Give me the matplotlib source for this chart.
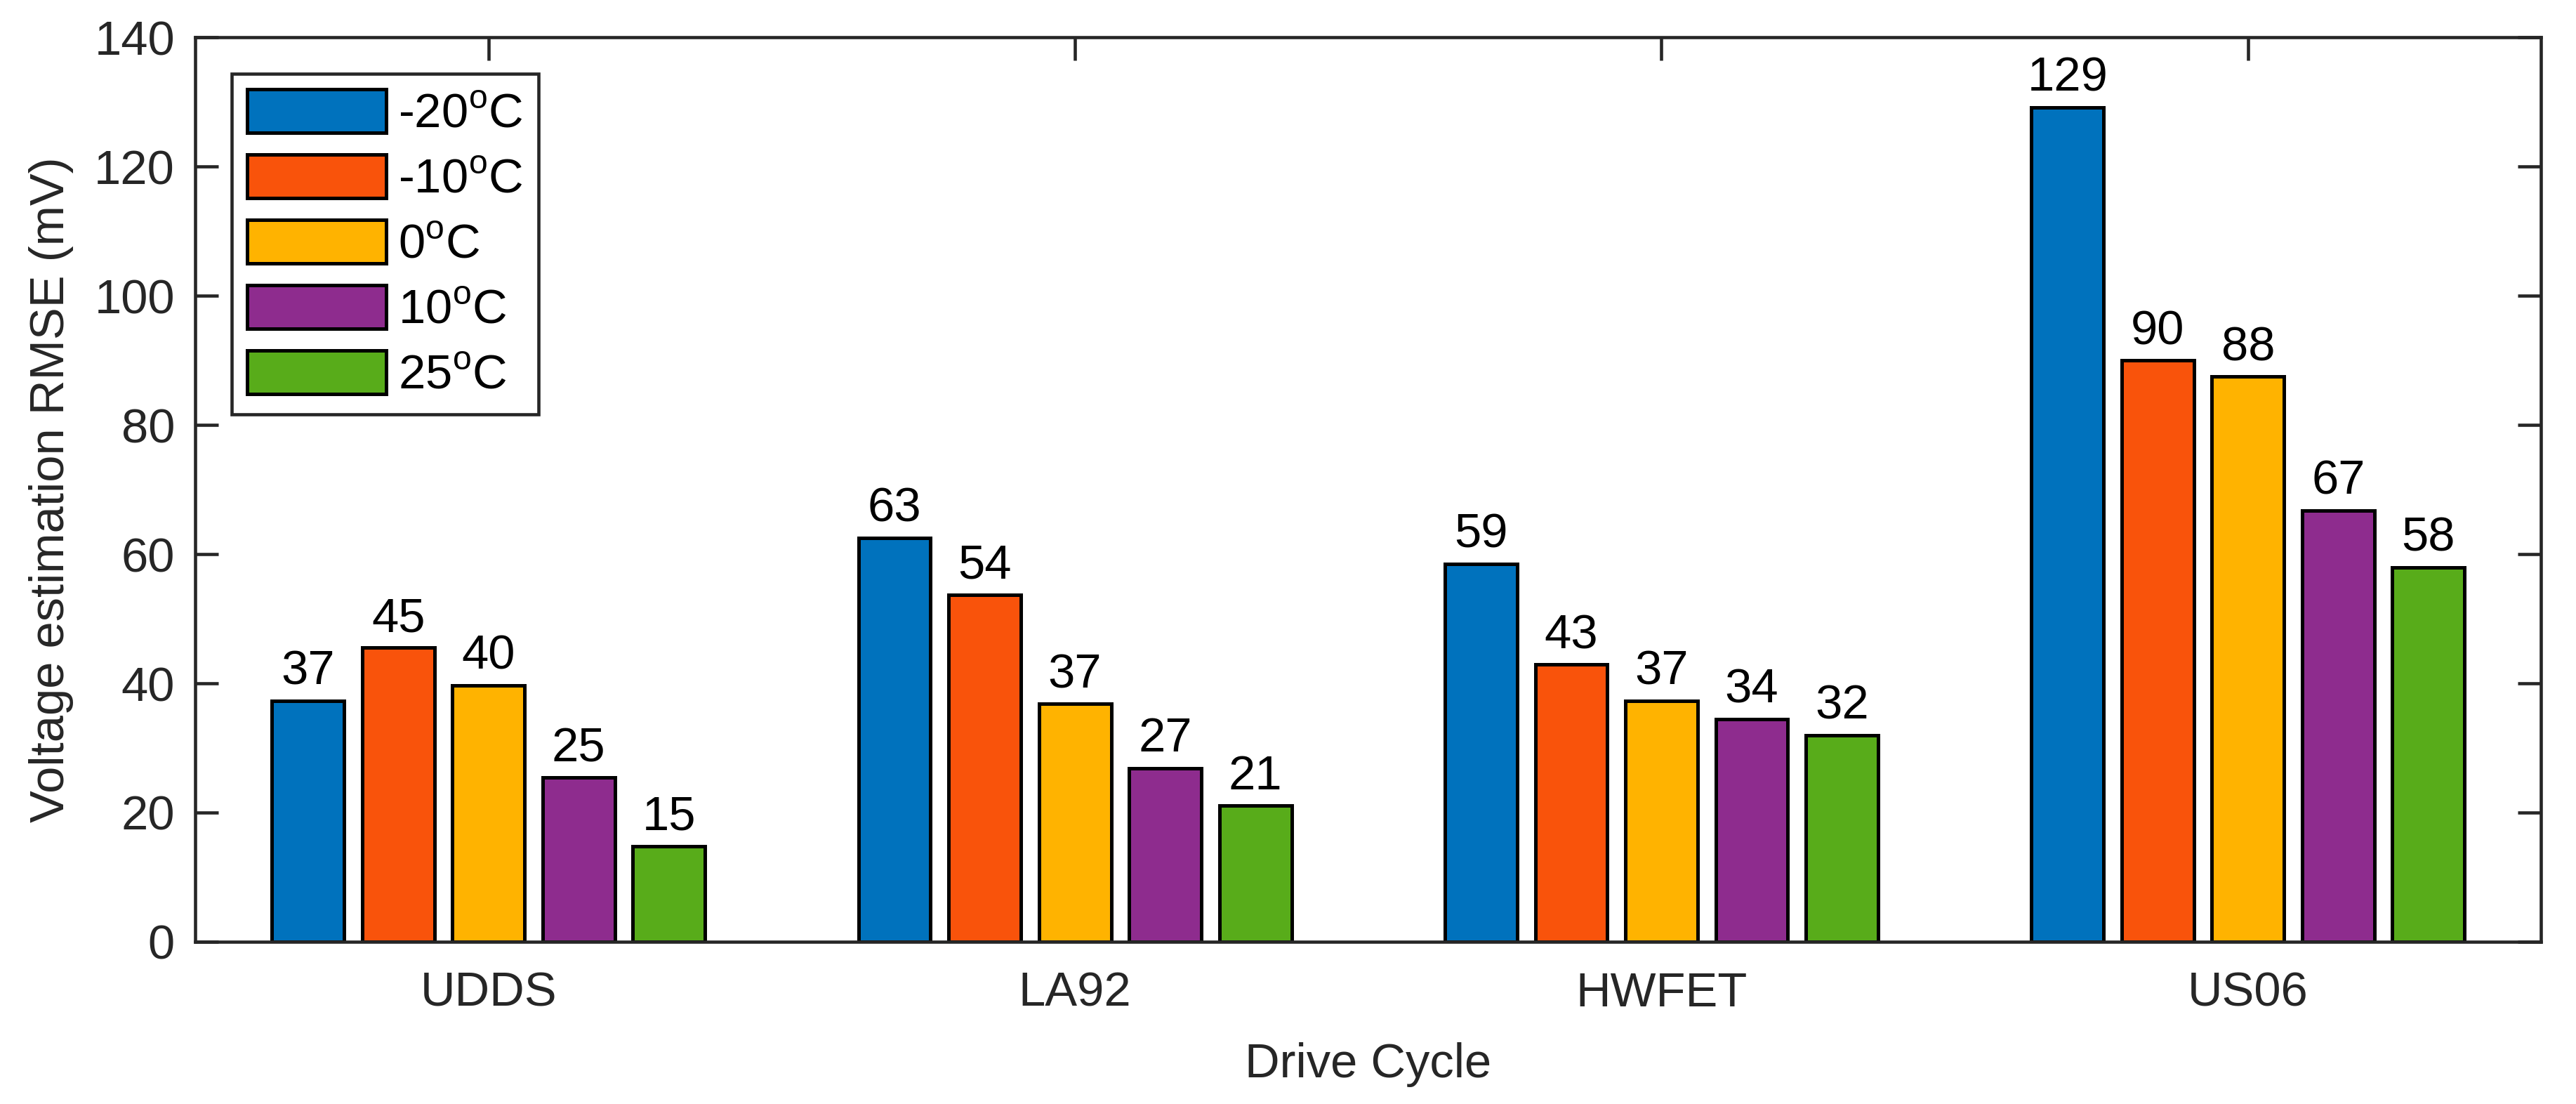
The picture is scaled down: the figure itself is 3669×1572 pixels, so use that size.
import numpy as np
import matplotlib.pyplot as plt

plt.rcParams['font.family'] = ['Liberation Sans', 'DejaVu Sans']
plt.rcParams['mathtext.fontset'] = 'custom'
plt.rcParams['mathtext.rm'] = 'Liberation Sans'

cycles = ['UDDS', 'LA92', 'HWFET', 'US06']
temps = [r'-20$^{\mathrm{o}}$C', r'-10$^{\mathrm{o}}$C', r'0$^{\mathrm{o}}$C',
         r'10$^{\mathrm{o}}$C', r'25$^{\mathrm{o}}$C']
colors = ['#0072BD', '#F9530B', '#FFB300', '#8E2C8E', '#58AC1A']

# rows = temperature, columns = drive cycle
rmse = [
    [37.3, 62.5, 58.5, 129.2],
    [45.5, 53.7, 42.9, 90.0],
    [39.7, 36.8, 37.3, 87.5],
    [25.4, 26.9, 34.5, 66.8],
    [14.8, 21.1, 32.0, 58.0],
]
labels = [
    [37, 63, 59, 129],
    [45, 54, 43, 90],
    [40, 37, 37, 88],
    [25, 27, 34, 67],
    [15, 21, 32, 58],
]

fs = 16.5
fig = plt.figure(figsize=(3669 / 300, 1572 / 300), dpi=300)
ax = fig.add_axes([0.0758, 0.147, 0.9107, 0.819])

n = len(temps)
gw = min(0.8, n / (n + 1.5))
step = gw / n
bw = 0.8 * step
x = np.arange(1, len(cycles) + 1)
for i in range(n):
    xs = x - gw / 2 + step * (i + 0.5)
    ax.bar(xs, rmse[i], width=bw, color=colors[i], edgecolor='black',
           linewidth=1.2, label=temps[i], zorder=2)
    for xx, v, lab in zip(xs, rmse[i], labels[i]):
        ax.text(xx, v + 1.0, str(lab), ha='center', va='bottom', fontsize=fs)

ax.set_xlim(0.5, 4.5)
ax.set_ylim(0, 140)
ax.set_xticks(x)
ax.set_xticklabels(cycles)
ax.set_yticks(np.arange(0, 141, 20))
ax.tick_params(direction='in', length=8, width=1.1, top=True, right=True,
               labelsize=fs, colors='#262626')
ax.tick_params(axis='y', pad=7)
ax.tick_params(axis='x', pad=10)
for s in ax.spines.values():
    s.set_linewidth(1.1)
    s.set_color('#262626')
ax.set_xlabel('Drive Cycle', fontsize=fs, color='#262626', labelpad=9)
ax.set_ylabel('Voltage estimation RMSE (mV)', fontsize=fs, color='#262626', labelpad=7)

leg = ax.legend(loc='upper left', fontsize=fs, fancybox=False, edgecolor='#262626',
                handlelength=2.88, handleheight=1.0, labelspacing=0.36,
                borderaxespad=0.75, borderpad=0.32, handletextpad=0.25, framealpha=1)
leg.get_frame().set_linewidth(1.1)

fig.savefig('out.png', dpi=300)
